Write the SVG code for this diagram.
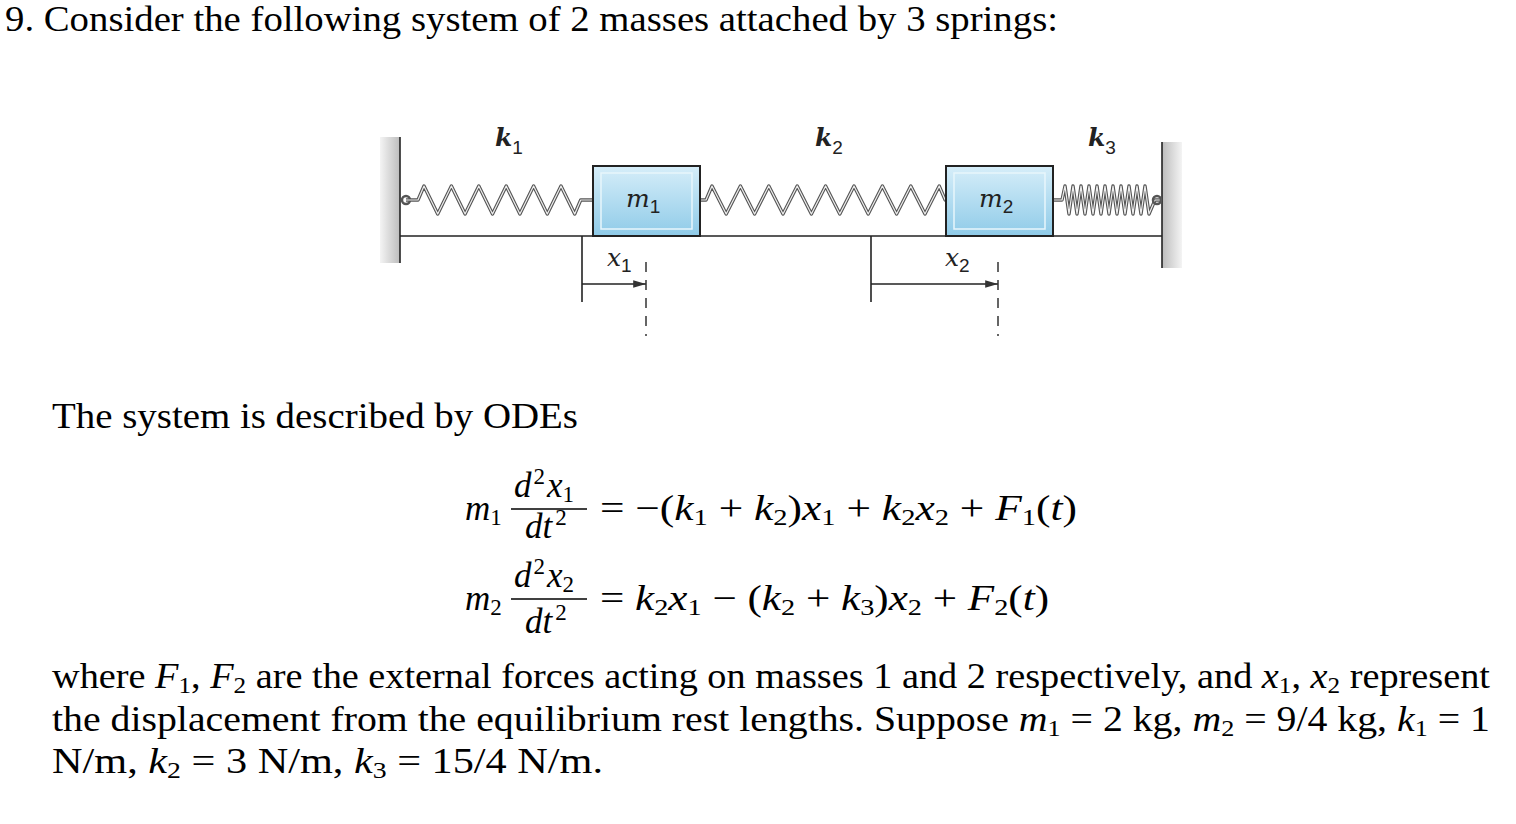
<svg xmlns="http://www.w3.org/2000/svg" width="1516" height="824" viewBox="0 0 1516 824">
<defs>
<linearGradient id="wallg" x1="0" x2="1"><stop offset="0" stop-color="#f4f4f4"/><stop offset="1" stop-color="#bcbcbc"/></linearGradient>
<linearGradient id="wallg2" x1="0" x2="1"><stop offset="0" stop-color="#bcbcbc"/><stop offset="1" stop-color="#f4f4f4"/></linearGradient>
<linearGradient id="boxg" x1="0" y1="0" x2="0" y2="1"><stop offset="0" stop-color="#d6eef9"/><stop offset="1" stop-color="#8fcbe8"/></linearGradient>
<marker id="ah" viewBox="0 0 10 10" refX="10" refY="5" markerWidth="8" markerHeight="8" orient="auto"><path d="M0,2 L10,5 L0,8 Z" fill="#333"/></marker>
<style>
.t{font-family:"Liberation Serif","DejaVu Serif",serif;font-size:35px;fill:#000}
.m{font-family:"Liberation Serif","DejaVu Serif",serif;font-style:italic;font-size:35px;fill:#000}
.r{font-style:normal}
.lbl{font-family:"DejaVu Serif",serif;font-style:italic;font-size:25px;fill:#222}
.sub{font-family:"Liberation Sans",sans-serif;font-style:normal;font-weight:normal;font-size:19px}
.sp1{fill:none;stroke:#555;stroke-width:3.4;stroke-linejoin:round}
.sp2{fill:none;stroke:#eee;stroke-width:1.2;stroke-linejoin:round}
.ln{stroke:#222;stroke-width:1.6;fill:none}
.dash{stroke:#333;stroke-width:1.5;stroke-dasharray:10,8}
</style>
</defs>
<rect width="1516" height="824" fill="#fff"/>
<text class="t" x="5" y="31" textLength="1053" lengthAdjust="spacingAndGlyphs">9. Consider the following system of 2 masses attached by 3 springs:</text>

<g id="walls">
<rect x="380" y="137" width="20" height="126" fill="url(#wallg)"/>
<line class="ln" x1="400" y1="137" x2="400" y2="263" stroke-width="2"/>
<rect x="1162" y="142" width="20" height="126" fill="url(#wallg2)"/>
<line class="ln" x1="1162" y1="142" x2="1162" y2="268" stroke-width="2"/>
<line class="ln" x1="400" y1="236" x2="1162" y2="236"/>
</g>

<g id="springs">
<circle cx="406" cy="200" r="4" fill="none" stroke="#555" stroke-width="2.5"/>
<path class="sp1" d="M406,200 L418,200 l6,-14 l13.7,28 l13.7,-28 l13.7,28 l13.7,-28 l13.7,28 l13.7,-28 l13.7,28 l13.7,-28 l13.7,28 l13.7,-28 l13.7,28 l6,-14 L593,200"/>
<path class="sp2" d="M406,200 L418,200 l6,-14 l13.7,28 l13.7,-28 l13.7,28 l13.7,-28 l13.7,28 l13.7,-28 l13.7,28 l13.7,-28 l13.7,28 l13.7,-28 l13.7,28 l6,-14 L593,200"/>
<path class="sp1" d="M700,200 L706,200 l6,-14 l14.2,28 l14.2,-28 l14.2,28 l14.2,-28 l14.2,28 l14.2,-28 l14.2,28 l14.2,-28 l14.2,28 l14.2,-28 l14.2,28 l14.2,-28 l14.2,28 l14.2,-28 l14.2,28 l14.2,-28 l6,14 L946,200"/>
<path class="sp2" d="M700,200 L706,200 l6,-14 l14.2,28 l14.2,-28 l14.2,28 l14.2,-28 l14.2,28 l14.2,-28 l14.2,28 l14.2,-28 l14.2,28 l14.2,-28 l14.2,28 l14.2,-28 l14.2,28 l14.2,-28 l14.2,28 l14.2,-28 l6,14 L946,200"/>
<path class="sp1" d="M1053,200 L1062,200 l3,-14 l4,28 l4,-28 l4,28 l4,-28 l4,28 l4,-28 l4,28 l4,-28 l4,28 l4,-28 l4,28 l4,-28 l4,28 l4,-28 l4,28 l4,-28 l4,28 l4,-28 l4,28 l4,-28 l4,28 l6,-14 L1160,200"/>
<path class="sp2" d="M1053,200 L1062,200 l3,-14 l4,28 l4,-28 l4,28 l4,-28 l4,28 l4,-28 l4,28 l4,-28 l4,28 l4,-28 l4,28 l4,-28 l4,28 l4,-28 l4,28 l4,-28 l4,28 l4,-28 l4,28 l4,-28 l4,28 l6,-14 L1160,200"/>
<circle cx="1157" cy="200" r="4" fill="none" stroke="#555" stroke-width="2.5"/>
</g>

<g id="m1">
<rect x="593" y="166" width="107" height="70" fill="url(#boxg)" stroke="#222" stroke-width="2"/>
<rect x="601" y="173" width="91" height="56" fill="none" stroke="#e8f6fc" stroke-width="1.5"/>
<text class="lbl" x="626" y="207">m<tspan class="sub" dy="6">1</tspan></text>
</g>
<g id="m2">
<rect x="946" y="166" width="107" height="70" fill="url(#boxg)" stroke="#222" stroke-width="2"/>
<rect x="954" y="173" width="91" height="56" fill="none" stroke="#e8f6fc" stroke-width="1.5"/>
<text class="lbl" x="979" y="207">m<tspan class="sub" dy="6">2</tspan></text>
</g>
<g id="labels">
<text class="lbl" x="495" y="146" font-weight="bold">k<tspan class="sub" dy="8">1</tspan></text>
<text class="lbl" x="815" y="146" font-weight="bold">k<tspan class="sub" dy="8">2</tspan></text>
<text class="lbl" x="1088" y="146" font-weight="bold">k<tspan class="sub" dy="8">3</tspan></text>
<text class="lbl" x="607" y="266">x<tspan class="sub" dy="6">1</tspan></text>
<text class="lbl" x="945" y="266">x<tspan class="sub" dy="6">2</tspan></text>
</g>

<g id="connectors">
<line class="ln" x1="582" y1="236" x2="582" y2="302"/>
<line class="ln" x1="582" y1="284" x2="646" y2="284" marker-end="url(#ah)"/>
<line class="dash" x1="646" y1="262" x2="646" y2="336"/>
<line class="ln" x1="871" y1="236" x2="871" y2="302"/>
<line class="ln" x1="871" y1="284" x2="998" y2="284" marker-end="url(#ah)"/>
<line class="dash" x1="998" y1="262" x2="998" y2="336"/>
</g>

<text class="t" x="52" y="428" textLength="526" lengthAdjust="spacingAndGlyphs">The system is described by ODEs</text>

<g id="eq1">
<text class="m" x="465" y="520">m<tspan class="r" font-size="23" dy="5">1</tspan></text>
<text class="m" x="514" y="497">d<tspan class="r" font-size="23" dx="2" dy="-13">2</tspan><tspan dx="2" dy="13">x</tspan><tspan class="r" font-size="23" dy="5">1</tspan></text>
<line x1="511" y1="509" x2="587" y2="509" stroke="#000" stroke-width="1.6"/>
<text class="m" x="525" y="538">dt<tspan class="r" font-size="23" dx="3" dy="-13">2</tspan></text>
<text class="m" x="600" y="520" textLength="477" lengthAdjust="spacingAndGlyphs"><tspan class="r">= −(</tspan>k<tspan class="r" font-size="23" dy="5">1</tspan><tspan class="r" dy="-5"> + </tspan>k<tspan class="r" font-size="23" dy="5">2</tspan><tspan class="r" dy="-5">)</tspan>x<tspan class="r" font-size="23" dy="5">1</tspan><tspan class="r" dy="-5"> + </tspan>k<tspan class="r" font-size="23" dy="5">2</tspan><tspan dy="-5">x</tspan><tspan class="r" font-size="23" dy="5">2</tspan><tspan class="r" dy="-5"> + </tspan>F<tspan class="r" font-size="23" dy="5">1</tspan><tspan class="r" dy="-5">(</tspan>t<tspan class="r">)</tspan></text>
</g>
<g id="eq2">
<text class="m" x="465" y="610">m<tspan class="r" font-size="23" dy="5">2</tspan></text>
<text class="m" x="514" y="587">d<tspan class="r" font-size="23" dx="2" dy="-13">2</tspan><tspan dx="2" dy="13">x</tspan><tspan class="r" font-size="23" dy="5">2</tspan></text>
<line x1="511" y1="599" x2="587" y2="599" stroke="#000" stroke-width="1.6"/>
<text class="m" x="525" y="633">dt<tspan class="r" font-size="23" dx="3" dy="-13">2</tspan></text>
<text class="m" x="600" y="610" textLength="449" lengthAdjust="spacingAndGlyphs"><tspan class="r">= </tspan>k<tspan class="r" font-size="23" dy="5">2</tspan><tspan dy="-5">x</tspan><tspan class="r" font-size="23" dy="5">1</tspan><tspan class="r" dy="-5"> − (</tspan>k<tspan class="r" font-size="23" dy="5">2</tspan><tspan class="r" dy="-5"> + </tspan>k<tspan class="r" font-size="23" dy="5">3</tspan><tspan class="r" dy="-5">)</tspan>x<tspan class="r" font-size="23" dy="5">2</tspan><tspan class="r" dy="-5"> + </tspan>F<tspan class="r" font-size="23" dy="5">2</tspan><tspan class="r" dy="-5">(</tspan>t<tspan class="r">)</tspan></text>
</g>

<text class="t" x="52" y="688" textLength="1438" lengthAdjust="spacingAndGlyphs">where <tspan font-style="italic">F</tspan><tspan font-size="23" dy="5">1</tspan><tspan dy="-5">, </tspan><tspan font-style="italic">F</tspan><tspan font-size="23" dy="5">2</tspan><tspan dy="-5"> are the external forces acting on masses 1 and 2 respectively, and </tspan><tspan font-style="italic">x</tspan><tspan font-size="23" dy="5">1</tspan><tspan dy="-5">, </tspan><tspan font-style="italic">x</tspan><tspan font-size="23" dy="5">2</tspan><tspan dy="-5"> represent</tspan></text>
<text class="t" x="52" y="731" textLength="1438" lengthAdjust="spacingAndGlyphs">the displacement from the equilibrium rest lengths. Suppose <tspan font-style="italic">m</tspan><tspan font-size="23" dy="5">1</tspan><tspan dy="-5"> = 2 kg, </tspan><tspan font-style="italic">m</tspan><tspan font-size="23" dy="5">2</tspan><tspan dy="-5"> = 9/4 kg, </tspan><tspan font-style="italic">k</tspan><tspan font-size="23" dy="5">1</tspan><tspan dy="-5"> = 1</tspan></text>
<text class="t" x="52" y="773" textLength="551" lengthAdjust="spacingAndGlyphs">N/m, <tspan font-style="italic">k</tspan><tspan font-size="23" dy="5">2</tspan><tspan dy="-5"> = 3 N/m, </tspan><tspan font-style="italic">k</tspan><tspan font-size="23" dy="5">3</tspan><tspan dy="-5"> = 15/4 N/m.</tspan></text>
</svg>
